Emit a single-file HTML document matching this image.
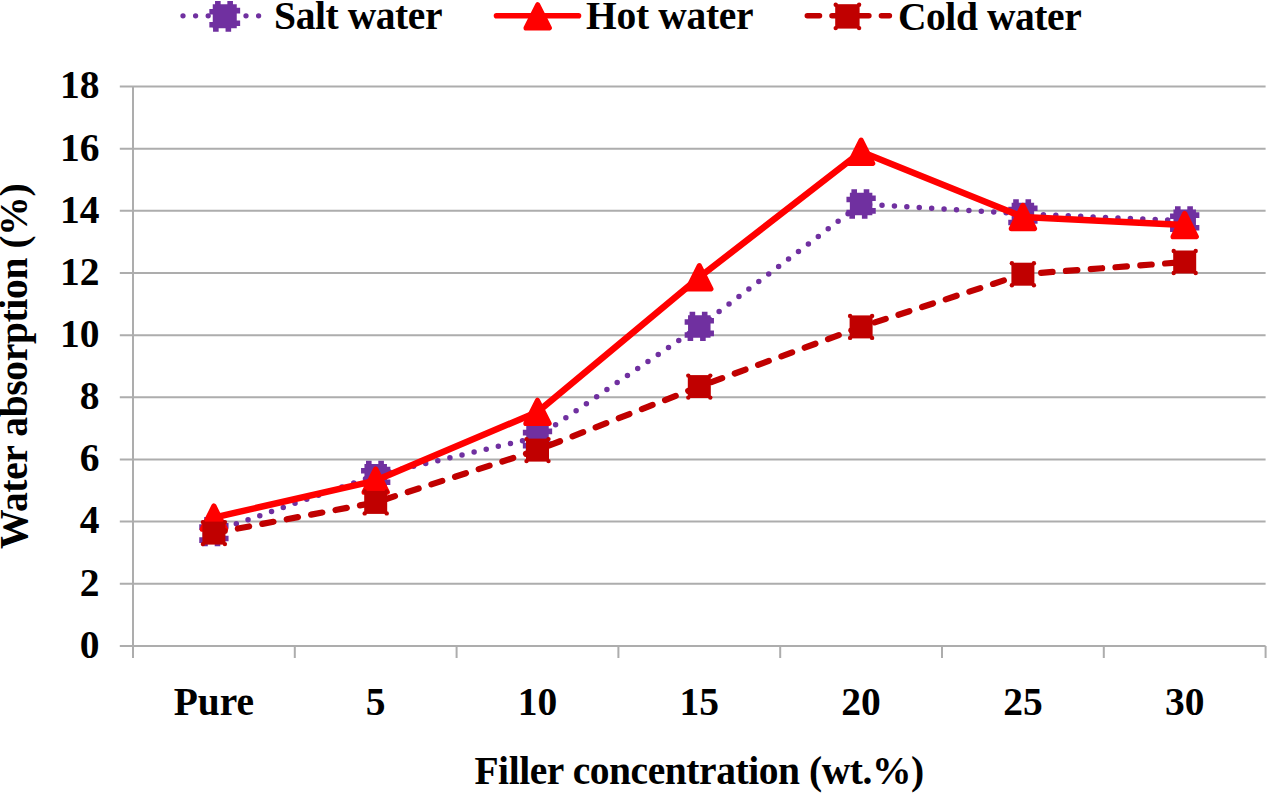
<!DOCTYPE html><html><head><meta charset="utf-8"><style>html,body{margin:0;padding:0;background:#fff;}svg{display:block;}text{font-family:"Liberation Serif",serif;font-weight:bold;fill:#000;}</style></head><body>
<svg width="1268" height="793" viewBox="0 0 1268 793">
<path d="M119.8 646.0H1265.6 M119.8 583.8H1265.6 M119.8 521.6H1265.6 M119.8 459.5H1265.6 M119.8 397.3H1265.6 M119.8 335.2H1265.6 M119.8 273.0H1265.6 M119.8 210.8H1265.6 M119.8 148.7H1265.6 M119.8 86.5H1265.6 M133.0 86.5V658.0 M294.8 646.0V658.0 M456.6 646.0V658.0 M618.4 646.0V658.0 M780.2 646.0V658.0 M942.0 646.0V658.0 M1103.8 646.0V658.0 M1265.6 646.0V658.0" stroke="#ADADAD" stroke-width="2" fill="none" stroke-linecap="butt"/>
<text x="99.6" y="657.8" font-size="39.5" text-anchor="end">0</text>
<text x="99.6" y="595.6" font-size="39.5" text-anchor="end">2</text>
<text x="99.6" y="533.4" font-size="39.5" text-anchor="end">4</text>
<text x="99.6" y="471.3" font-size="39.5" text-anchor="end">6</text>
<text x="99.6" y="409.1" font-size="39.5" text-anchor="end">8</text>
<text x="99.6" y="347.0" font-size="39.5" text-anchor="end">10</text>
<text x="99.6" y="284.8" font-size="39.5" text-anchor="end">12</text>
<text x="99.6" y="222.6" font-size="39.5" text-anchor="end">14</text>
<text x="99.6" y="160.5" font-size="39.5" text-anchor="end">16</text>
<text x="99.6" y="98.3" font-size="39.5" text-anchor="end">18</text>
<text x="213.9" y="715" font-size="39.5" text-anchor="middle">Pure</text>
<text x="375.7" y="715" font-size="39.5" text-anchor="middle">5</text>
<text x="537.5" y="715" font-size="39.5" text-anchor="middle">10</text>
<text x="699.3" y="715" font-size="39.5" text-anchor="middle">15</text>
<text x="861.1" y="715" font-size="39.5" text-anchor="middle">20</text>
<text x="1022.9" y="715" font-size="39.5" text-anchor="middle">25</text>
<text x="1184.7" y="715" font-size="39.5" text-anchor="middle">30</text>
<text x="699.3" y="783.5" font-size="39.5" text-anchor="middle" textLength="449.8" lengthAdjust="spacing">Filler concentration (wt.%)</text>
<text transform="translate(27.1 366.2) rotate(-90)" x="0" y="0" font-size="39.5" text-anchor="middle" textLength="365.7" lengthAdjust="spacing">Water absorption (%)</text>
<polyline points="213.9,531.6 375.7,475.3 537.5,437.1 699.3,326.4 861.1,204.0 1022.9,213.9 1184.7,220.8" fill="none" stroke="#7030A0" stroke-width="5.5" stroke-linecap="round" stroke-linejoin="round" stroke-dasharray="0 12.436" stroke-dashoffset="1.153"/>
<path d="M202.65 520.33h22.5v22.5h-22.5zM204.20 516.93h5.6v4.4h-5.6zM216.50 516.93h5.6v4.4h-5.6zM202.20 541.83h5.6v4.4h-5.6zM214.70 541.83h5.6v4.4h-5.6zM224.15 523.08h4.4v5.6h-4.4zM224.15 535.68h4.4v5.6h-4.4zM199.25 524.28h4.4v5.6h-4.4zM199.25 537.28h4.4v5.6h-4.4z" fill="#7030A0"/>
<path d="M364.45 464.07h22.5v22.5h-22.5zM366.00 460.67h5.6v4.4h-5.6zM378.30 460.67h5.6v4.4h-5.6zM364.00 485.57h5.6v4.4h-5.6zM376.50 485.57h5.6v4.4h-5.6zM385.95 466.82h4.4v5.6h-4.4zM385.95 479.42h4.4v5.6h-4.4zM361.05 468.02h4.4v5.6h-4.4zM361.05 481.02h4.4v5.6h-4.4z" fill="#7030A0"/>
<path d="M526.25 425.84h22.5v22.5h-22.5zM527.80 422.44h5.6v4.4h-5.6zM540.10 422.44h5.6v4.4h-5.6zM525.80 447.34h5.6v4.4h-5.6zM538.30 447.34h5.6v4.4h-5.6zM547.75 428.59h4.4v5.6h-4.4zM547.75 441.19h4.4v5.6h-4.4zM522.85 429.79h4.4v5.6h-4.4zM522.85 442.79h4.4v5.6h-4.4z" fill="#7030A0"/>
<path d="M688.05 315.20h22.5v22.5h-22.5zM689.60 311.80h5.6v4.4h-5.6zM701.90 311.80h5.6v4.4h-5.6zM687.60 336.70h5.6v4.4h-5.6zM700.10 336.70h5.6v4.4h-5.6zM709.55 317.95h4.4v5.6h-4.4zM709.55 330.55h4.4v5.6h-4.4zM684.65 319.15h4.4v5.6h-4.4zM684.65 332.15h4.4v5.6h-4.4z" fill="#7030A0"/>
<path d="M849.85 192.74h22.5v22.5h-22.5zM851.40 189.34h5.6v4.4h-5.6zM863.70 189.34h5.6v4.4h-5.6zM849.40 214.24h5.6v4.4h-5.6zM861.90 214.24h5.6v4.4h-5.6zM871.35 195.49h4.4v5.6h-4.4zM871.35 208.09h4.4v5.6h-4.4zM846.45 196.69h4.4v5.6h-4.4zM846.45 209.69h4.4v5.6h-4.4z" fill="#7030A0"/>
<path d="M1011.65 202.69h22.5v22.5h-22.5zM1013.20 199.29h5.6v4.4h-5.6zM1025.50 199.29h5.6v4.4h-5.6zM1011.20 224.19h5.6v4.4h-5.6zM1023.70 224.19h5.6v4.4h-5.6zM1033.15 205.44h4.4v5.6h-4.4zM1033.15 218.04h4.4v5.6h-4.4zM1008.25 206.64h4.4v5.6h-4.4zM1008.25 219.64h4.4v5.6h-4.4z" fill="#7030A0"/>
<path d="M1173.45 209.53h22.5v22.5h-22.5zM1175.00 206.13h5.6v4.4h-5.6zM1187.30 206.13h5.6v4.4h-5.6zM1173.00 231.03h5.6v4.4h-5.6zM1185.50 231.03h5.6v4.4h-5.6zM1194.95 212.28h4.4v5.6h-4.4zM1194.95 224.88h4.4v5.6h-4.4zM1170.05 213.48h4.4v5.6h-4.4zM1170.05 226.48h4.4v5.6h-4.4z" fill="#7030A0"/>
<polyline points="213.9,517.6 375.7,480.6 537.5,411.9 699.3,277.3 861.1,151.8 1022.9,217.0 1184.7,225.1" fill="none" stroke="#FF0000" stroke-width="6.5" stroke-linecap="round" stroke-linejoin="round"/>
<path d="M213.9 506.0L225.5 529.2L202.3 529.2Z" fill="#FF0000" stroke="#FF0000" stroke-width="5.2" stroke-linejoin="round"/>
<path d="M375.7 469.0L387.3 492.2L364.1 492.2Z" fill="#FF0000" stroke="#FF0000" stroke-width="5.2" stroke-linejoin="round"/>
<path d="M537.5 400.3L549.1 423.5L525.9 423.5Z" fill="#FF0000" stroke="#FF0000" stroke-width="5.2" stroke-linejoin="round"/>
<path d="M699.3 265.7L710.9 288.9L687.7 288.9Z" fill="#FF0000" stroke="#FF0000" stroke-width="5.2" stroke-linejoin="round"/>
<path d="M861.1 140.2L872.7 163.4L849.5 163.4Z" fill="#FF0000" stroke="#FF0000" stroke-width="5.2" stroke-linejoin="round"/>
<path d="M1022.9 205.4L1034.5 228.6L1011.3 228.6Z" fill="#FF0000" stroke="#FF0000" stroke-width="5.2" stroke-linejoin="round"/>
<path d="M1184.7 213.5L1196.3 236.7L1173.1 236.7Z" fill="#FF0000" stroke="#FF0000" stroke-width="5.2" stroke-linejoin="round"/>
<polyline points="213.9,533.1 375.7,502.4 537.5,450.1 699.3,386.6 861.1,326.9 1022.9,274.2 1184.7,262.0" fill="none" stroke="#C00000" stroke-width="6.2" stroke-linecap="round" stroke-linejoin="round" stroke-dasharray="11.43 13.425" stroke-dashoffset="0.462"/>
<rect x="202.4" y="521.6" width="23.0" height="23.0" fill="#C00000"/><circle cx="202.9" cy="522.1" r="2.2" fill="#C00000"/><circle cx="202.9" cy="544.1" r="2.2" fill="#C00000"/><circle cx="224.9" cy="522.1" r="2.2" fill="#C00000"/><circle cx="224.9" cy="544.1" r="2.2" fill="#C00000"/>
<rect x="364.2" y="490.9" width="23.0" height="23.0" fill="#C00000"/><circle cx="364.7" cy="491.4" r="2.2" fill="#C00000"/><circle cx="364.7" cy="513.4" r="2.2" fill="#C00000"/><circle cx="386.7" cy="491.4" r="2.2" fill="#C00000"/><circle cx="386.7" cy="513.4" r="2.2" fill="#C00000"/>
<rect x="526.0" y="438.6" width="23.0" height="23.0" fill="#C00000"/><circle cx="526.5" cy="439.1" r="2.2" fill="#C00000"/><circle cx="526.5" cy="461.1" r="2.2" fill="#C00000"/><circle cx="548.5" cy="439.1" r="2.2" fill="#C00000"/><circle cx="548.5" cy="461.1" r="2.2" fill="#C00000"/>
<rect x="687.8" y="375.1" width="23.0" height="23.0" fill="#C00000"/><circle cx="688.3" cy="375.6" r="2.2" fill="#C00000"/><circle cx="688.3" cy="397.6" r="2.2" fill="#C00000"/><circle cx="710.3" cy="375.6" r="2.2" fill="#C00000"/><circle cx="710.3" cy="397.6" r="2.2" fill="#C00000"/>
<rect x="849.6" y="315.4" width="23.0" height="23.0" fill="#C00000"/><circle cx="850.1" cy="315.9" r="2.2" fill="#C00000"/><circle cx="850.1" cy="337.9" r="2.2" fill="#C00000"/><circle cx="872.1" cy="315.9" r="2.2" fill="#C00000"/><circle cx="872.1" cy="337.9" r="2.2" fill="#C00000"/>
<rect x="1011.4" y="262.7" width="23.0" height="23.0" fill="#C00000"/><circle cx="1011.9" cy="263.2" r="2.2" fill="#C00000"/><circle cx="1011.9" cy="285.2" r="2.2" fill="#C00000"/><circle cx="1033.9" cy="263.2" r="2.2" fill="#C00000"/><circle cx="1033.9" cy="285.2" r="2.2" fill="#C00000"/>
<rect x="1173.2" y="250.5" width="23.0" height="23.0" fill="#C00000"/><circle cx="1173.7" cy="251.0" r="2.2" fill="#C00000"/><circle cx="1173.7" cy="273.0" r="2.2" fill="#C00000"/><circle cx="1195.7" cy="251.0" r="2.2" fill="#C00000"/><circle cx="1195.7" cy="273.0" r="2.2" fill="#C00000"/>
<path d="M183 15.8H263" stroke="#7030A0" stroke-width="5.3" stroke-linecap="round" stroke-dasharray="0 12.6" fill="none"/>
<path d="M212.75 4.30h24.0v24.0h-24.0zM215.05 0.90h5.6v4.4h-5.6zM227.35 0.90h5.6v4.4h-5.6zM213.05 27.30h5.6v4.4h-5.6zM225.55 27.30h5.6v4.4h-5.6zM235.75 7.80h4.4v5.6h-4.4zM235.75 20.40h4.4v5.6h-4.4zM209.35 9.00h4.4v5.6h-4.4zM209.35 22.00h4.4v5.6h-4.4z" fill="#7030A0"/>
<text x="274.1" y="29.3" font-size="39.5" textLength="168.4" lengthAdjust="spacing">Salt water</text>
<path d="M496.5 15.8H578.5" stroke="#FF0000" stroke-width="5.6" stroke-linecap="round" fill="none"/>
<path d="M537.7 4.8L549.3 28.0L526.1 28.0Z" fill="#FF0000" stroke="#FF0000" stroke-width="5.2" stroke-linejoin="round"/>
<text x="586.1" y="29.4" font-size="39.5" textLength="167.4" lengthAdjust="spacing">Hot water</text>
<path d="M807.3 15.8H889.4" stroke="#C00000" stroke-width="5.5" stroke-linecap="round" stroke-dasharray="12.2 12.5" fill="none"/>
<rect x="835.2" y="4.2" width="24.4" height="24.4" fill="#C00000"/><circle cx="835.7" cy="4.7" r="2.2" fill="#C00000"/><circle cx="835.7" cy="28.1" r="2.2" fill="#C00000"/><circle cx="859.1" cy="4.7" r="2.2" fill="#C00000"/><circle cx="859.1" cy="28.1" r="2.2" fill="#C00000"/>
<text x="897.9" y="29.5" font-size="39.5" textLength="183.8" lengthAdjust="spacing">Cold water</text>
</svg></body></html>
